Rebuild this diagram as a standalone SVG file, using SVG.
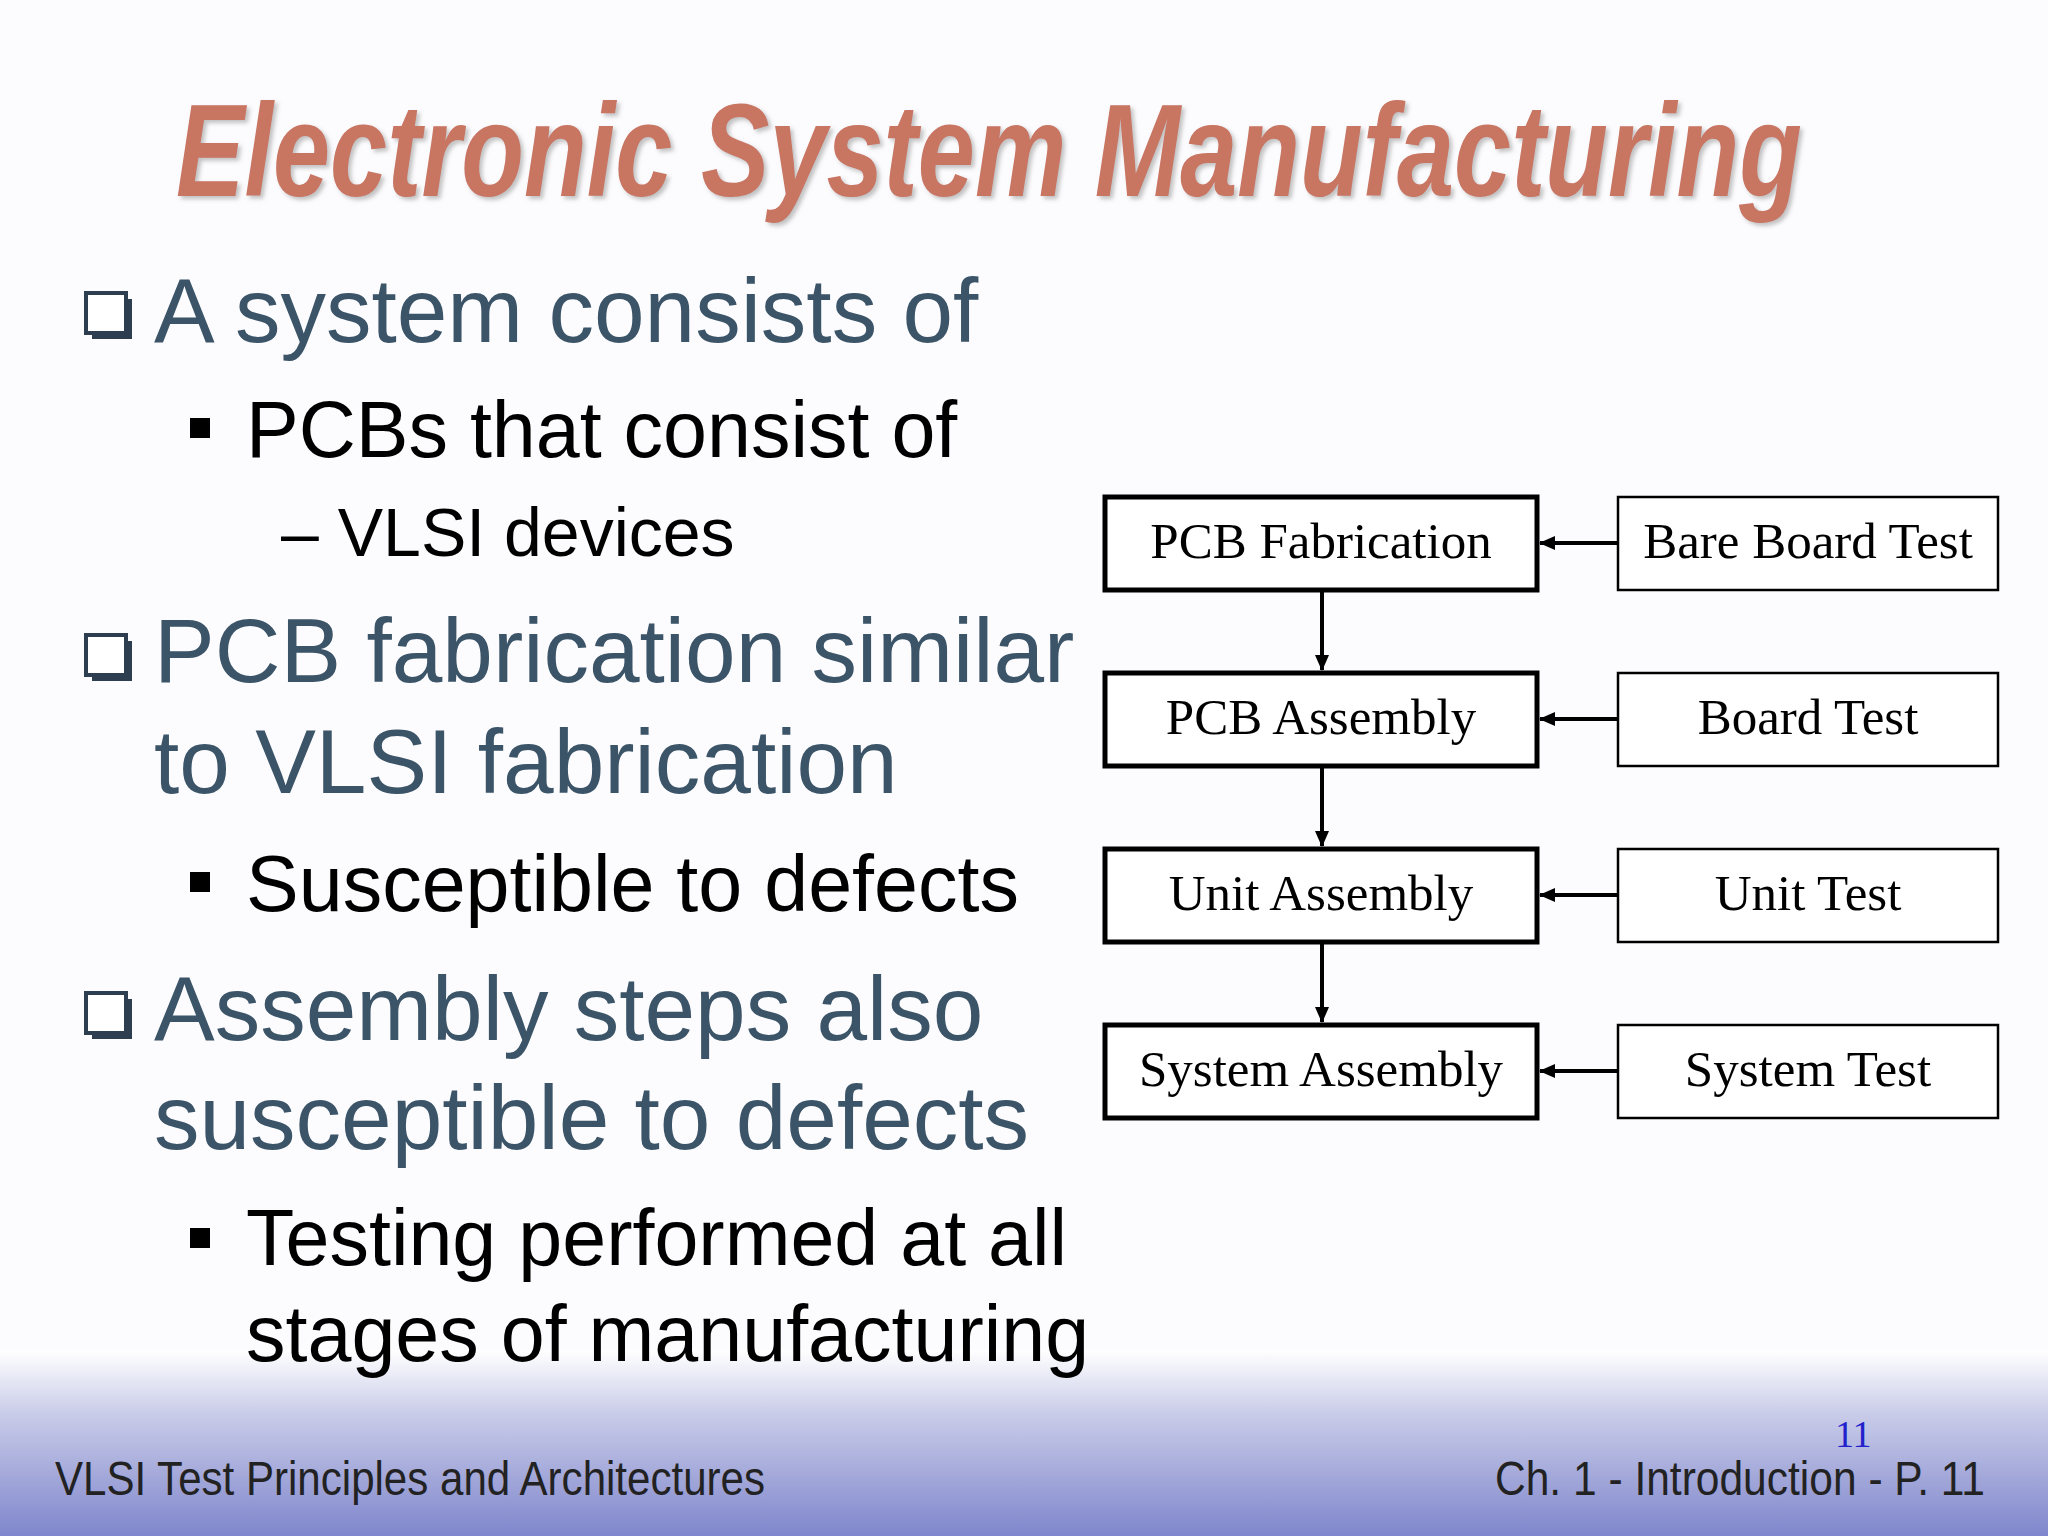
<svg xmlns="http://www.w3.org/2000/svg" width="2048" height="1536" viewBox="0 0 2048 1536">
<defs>
<linearGradient id="foot" x1="0" y1="0" x2="0" y2="1">
<stop offset="0" stop-color="#ffffff"/>
<stop offset="0.35" stop-color="#c8cbe8"/>
<stop offset="1" stop-color="#7f86cc"/>
</linearGradient>
<marker id="ah" markerWidth="16" markerHeight="16" refX="15" refY="8" orient="auto" markerUnits="userSpaceOnUse">
<path d="M0,1 L16,8 L0,15 Z" fill="#000"/>
</marker>
<filter id="sh" x="-5%" y="-20%" width="110%" height="140%"><feDropShadow dx="3" dy="3" stdDeviation="2" flood-color="#999" flood-opacity="0.6"/></filter>
</defs>
<style>
.l1{font-family:"Liberation Sans",Arial,sans-serif;font-size:91px;fill:#3b5468}
.l2{font-family:"Liberation Sans",Arial,sans-serif;font-size:79px;fill:#000}
.l3{font-family:"Liberation Sans",Arial,sans-serif;font-size:68px;fill:#000}
.bx{fill:#fff;stroke:#000}
.bt{font-family:"Liberation Serif","Times New Roman",serif;font-size:51px;fill:#000;text-anchor:middle}
.cb{fill:#fff;stroke:#2c3e50;stroke-width:4}
.cs{fill:#2c3e50}
.ft{font-family:"Liberation Sans",Arial,sans-serif;font-size:48px;fill:#222}
</style>
<rect width="2048" height="1536" fill="#fcfcfe"/>
<rect x="0" y="1350" width="2048" height="186" fill="url(#foot)"/>
<text x="176" y="196" font-family="Liberation Sans,Arial,sans-serif" font-weight="bold" font-style="italic" font-size="132" fill="#c87462" textLength="1626" lengthAdjust="spacingAndGlyphs" filter="url(#sh)">Electronic System Manufacturing</text>

<g id="bullets">
<rect class="cs" x="92" y="299" width="40" height="40"/><rect class="cb" x="86" y="293" width="40" height="40"/>
<text class="l1" x="154" y="342">A system consists of</text>
<rect x="190" y="418" width="20" height="20" fill="#000"/>
<text class="l2" x="246" y="457">PCBs that consist of</text>
<text class="l3" x="281" y="556">– VLSI devices</text>
<rect class="cs" x="92" y="641" width="40" height="40"/><rect class="cb" x="86" y="635" width="40" height="40"/>
<text class="l1" x="154" y="682">PCB fabrication similar</text>
<text class="l1" x="154" y="793">to VLSI fabrication</text>
<rect x="190" y="872" width="20" height="20" fill="#000"/>
<text class="l2" x="246" y="911">Susceptible to defects</text>
<rect class="cs" x="92" y="999" width="40" height="40"/><rect class="cb" x="86" y="993" width="40" height="40"/>
<text class="l1" x="154" y="1040">Assembly steps also</text>
<text class="l1" x="154" y="1149">susceptible to defects</text>
<rect x="190" y="1228" width="20" height="20" fill="#000"/>
<text class="l2" x="246" y="1265">Testing performed at all</text>
<text class="l2" x="246" y="1361">stages of manufacturing</text>
</g>

<g id="n1"><rect class="bx" x="1105" y="497" width="432" height="93" stroke-width="5"/><text class="bt" x="1321" y="558">PCB Fabrication</text></g>
<g id="n2"><rect class="bx" x="1105" y="673" width="432" height="93" stroke-width="5"/><text class="bt" x="1321" y="734">PCB Assembly</text></g>
<g id="n3"><rect class="bx" x="1105" y="849" width="432" height="93" stroke-width="5"/><text class="bt" x="1321" y="910">Unit Assembly</text></g>
<g id="n4"><rect class="bx" x="1105" y="1025" width="432" height="93" stroke-width="5"/><text class="bt" x="1321" y="1086">System Assembly</text></g>
<g id="t1"><rect class="bx" x="1618" y="497" width="380" height="93" stroke-width="2.5"/><text class="bt" x="1808" y="558">Bare Board Test</text></g>
<g id="t2"><rect class="bx" x="1618" y="673" width="380" height="93" stroke-width="2.5"/><text class="bt" x="1808" y="734">Board Test</text></g>
<g id="t3"><rect class="bx" x="1618" y="849" width="380" height="93" stroke-width="2.5"/><text class="bt" x="1808" y="910">Unit Test</text></g>
<g id="t4"><rect class="bx" x="1618" y="1025" width="380" height="93" stroke-width="2.5"/><text class="bt" x="1808" y="1086">System Test</text></g>

<g id="connectors" stroke="#000" stroke-width="4" fill="none">
<line x1="1322" y1="592" x2="1322" y2="670" marker-end="url(#ah)"/>
<line x1="1322" y1="768" x2="1322" y2="846" marker-end="url(#ah)"/>
<line x1="1322" y1="944" x2="1322" y2="1022" marker-end="url(#ah)"/>
<line x1="1617" y1="543" x2="1540" y2="543" marker-end="url(#ah)"/>
<line x1="1617" y1="719" x2="1540" y2="719" marker-end="url(#ah)"/>
<line x1="1617" y1="895" x2="1540" y2="895" marker-end="url(#ah)"/>
<line x1="1617" y1="1071" x2="1540" y2="1071" marker-end="url(#ah)"/>
</g>

<text class="ft" x="55" y="1495" textLength="710" lengthAdjust="spacingAndGlyphs">VLSI Test Principles and Architectures</text>
<text class="ft" x="1985" y="1495" text-anchor="end" textLength="490" lengthAdjust="spacingAndGlyphs">Ch. 1 - Introduction - P. 11</text>
<text x="1835" y="1447" font-family="Liberation Serif,serif" font-size="38" fill="#2222cc">11</text>
</svg>
